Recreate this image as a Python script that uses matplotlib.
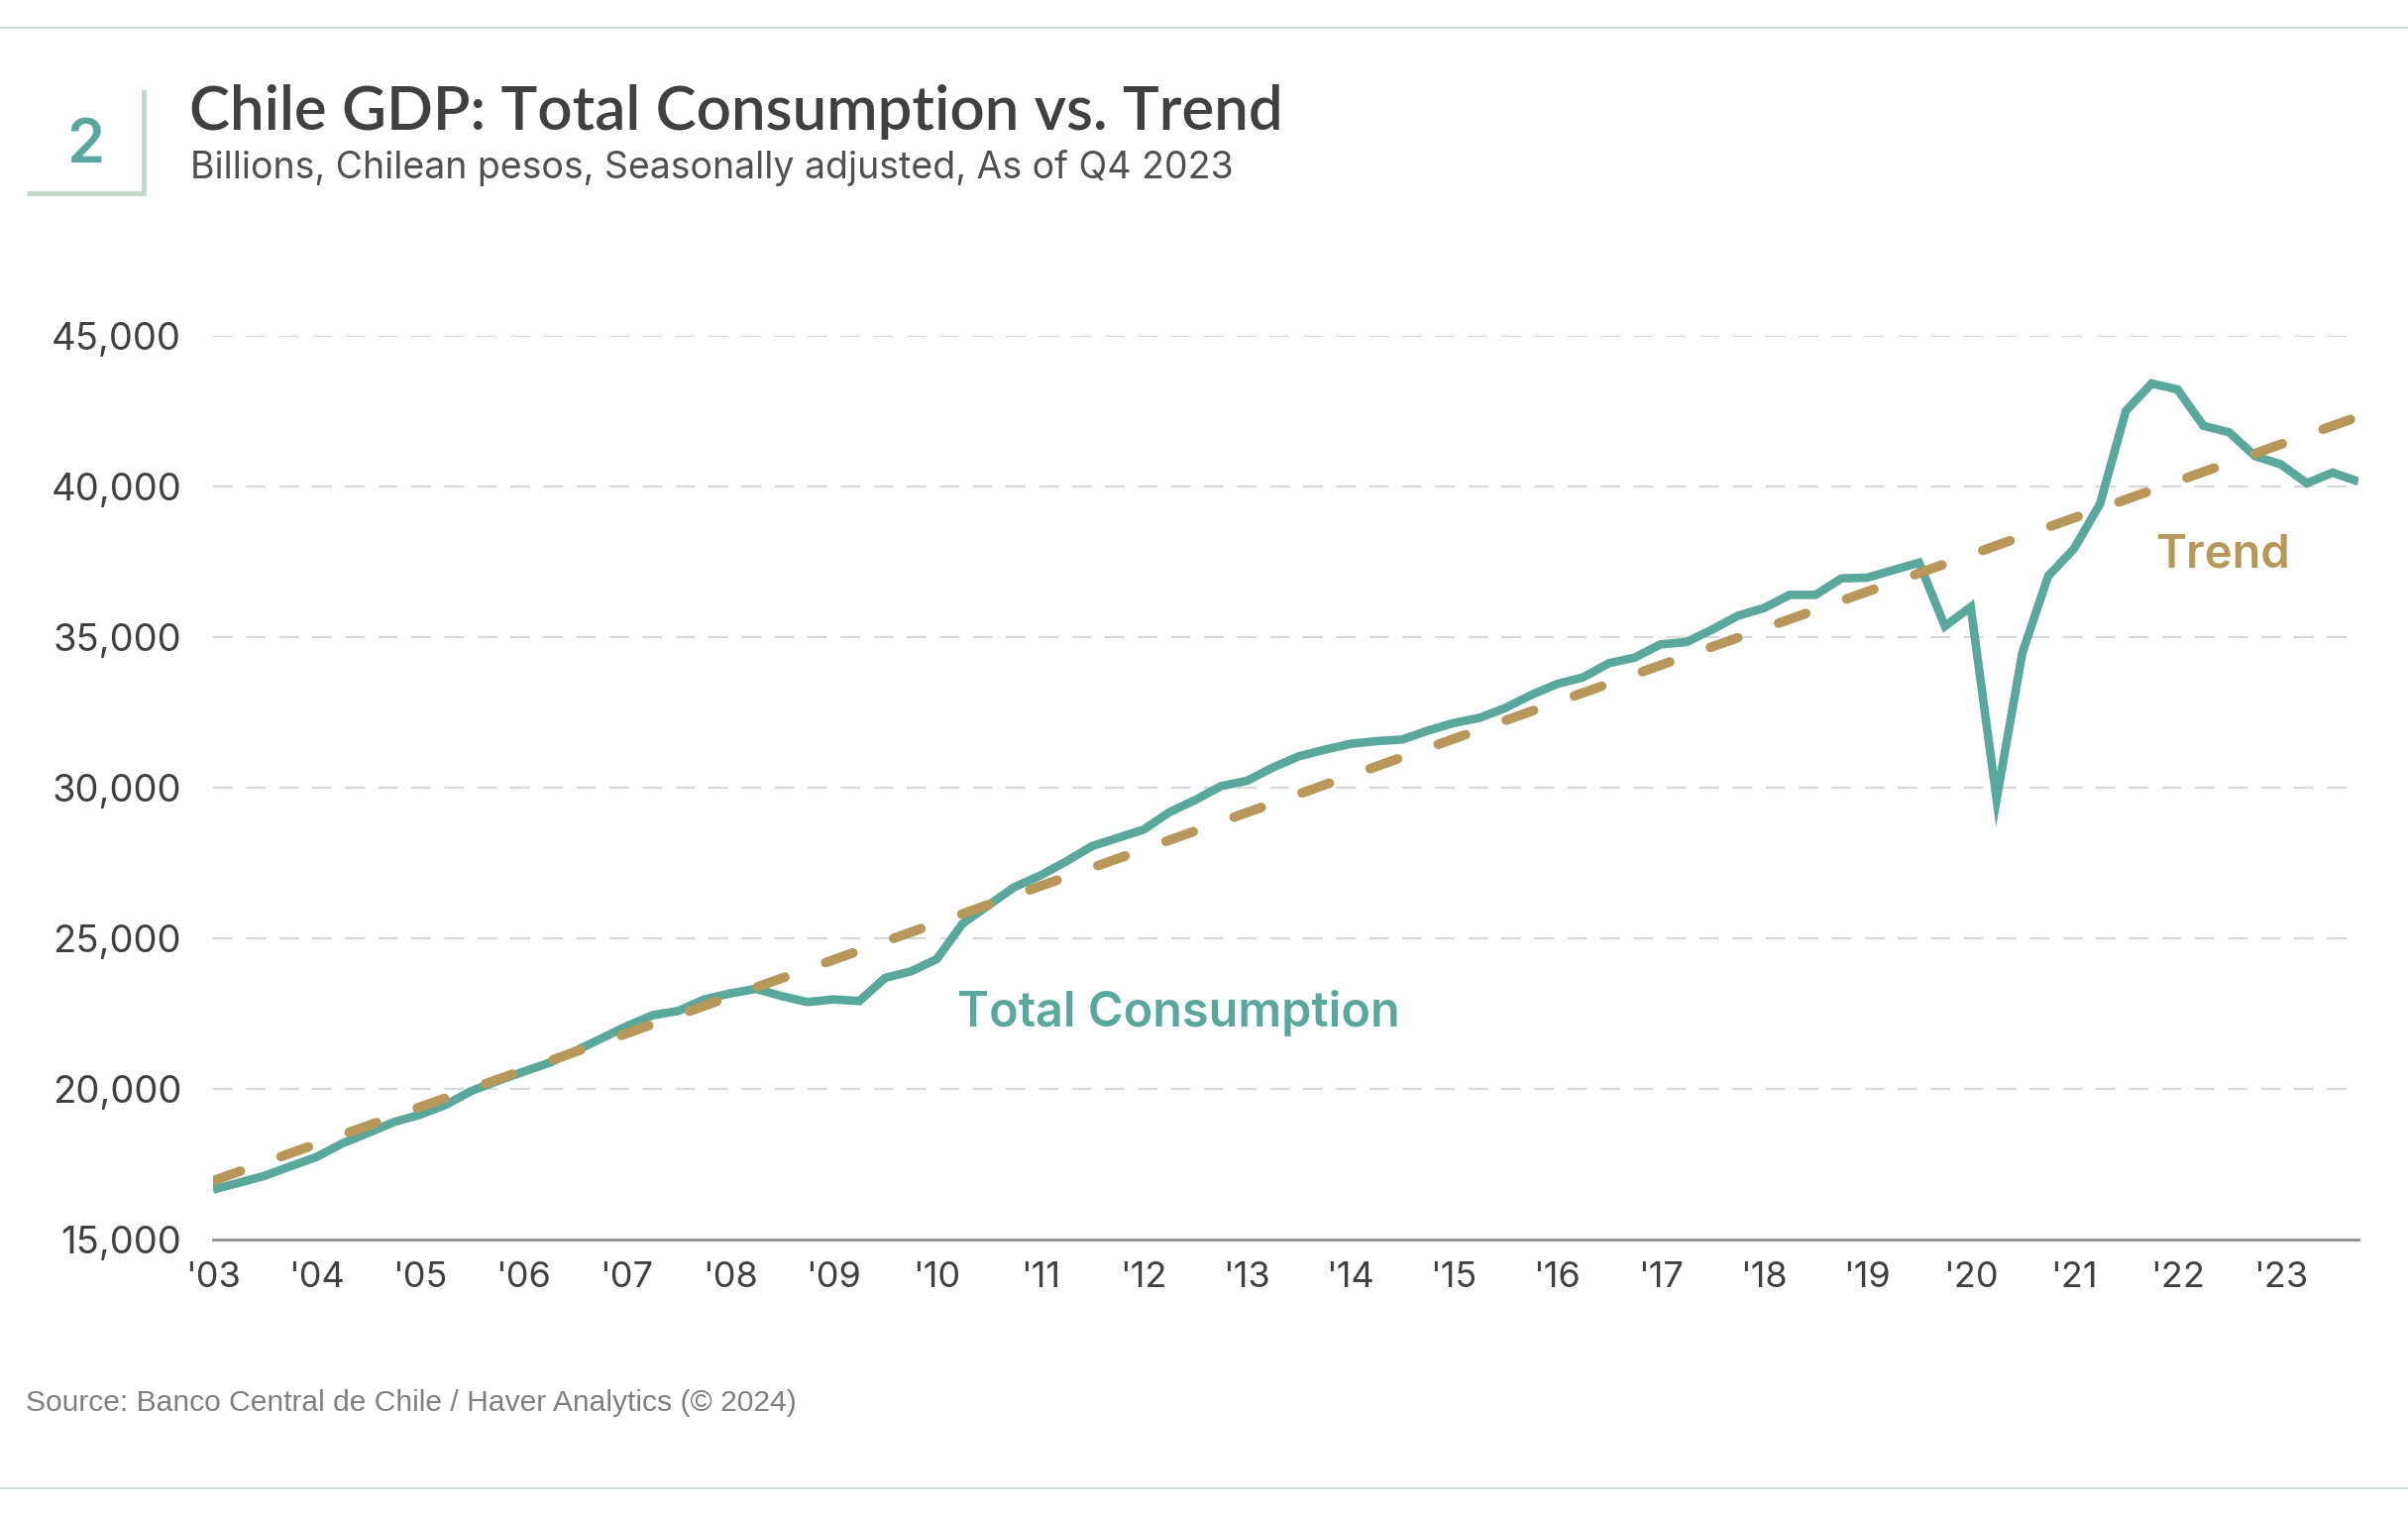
import matplotlib
matplotlib.use("Agg")
import matplotlib.pyplot as plt
from matplotlib.lines import Line2D
import numpy as np

# ---------------- data ----------------
start_year = 2003
consumption = [
    16656, 16886, 17116, 17434, 17741, 18190, 18540, 18900,   # 2003-2004
    19145, 19470, 19935, 20263, 20570, 20866, 21250, 21667,   # 2005-2006
    22080, 22446, 22590, 22972, 23170, 23323, 23082, 22885,   # 2007-2008
    22972, 22918, 23685, 23904, 24310, 25493, 26096, 26700,   # 2009-2010
    27083, 27550, 28060, 28334, 28608, 29189, 29594, 30055,   # 2011-2012
    30230, 30669, 31041, 31260, 31458, 31545, 31600, 31896,   # 2013-2014
    32148, 32320, 32650, 33082, 33444, 33663, 34134, 34320,   # 2015-2016
    34759, 34836, 35252, 35712, 35964, 36403, 36403, 36951,   # 2017-2018
    36973, 37225, 37470, 35364, 36000, 29620, 34487, 37030,   # 2019-2020
    37940, 39419, 42510, 43420, 43222, 42017, 41797, 41008,   # 2021-2022
    40734, 40110, 40460, 40164,                               # 2023
]
trend_x = [2003.0, 2023.75]
trend_vals = [16950, 42320]

year_ticks = list(range(2003, 2024))
year_labels = ["'" + str(y)[2:] for y in year_ticks]
y_ticks = [15000, 20000, 25000, 30000, 35000, 40000, 45000]
y_labels = ["{:,}".format(v) for v in y_ticks]

title = "Chile GDP: Total Consumption vs. Trend"
subtitle = "Billions, Chilean pesos, Seasonally adjusted, As of Q4 2023"
source = "Source: Banco Central de Chile / Haver Analytics (\u00a9 2024)"

teal = "#5aa89c"
gold = "#b8985a"
dark = "#404040"

x = [start_year + i / 4 for i in range(len(consumption))]

# ---------------- figure ----------------
W, H = 2430, 1528
fig = plt.figure(figsize=(W / 100, H / 100), dpi=100)
fig.patch.set_facecolor("white")

FONT = ["Inter", "Lato", "DejaVu Sans"]
TFONT = ["Lato", "DejaVu Sans"]

def fx(px):
    return px / W

def fy(py):
    return 1 - py / H

ax = fig.add_axes([fx(215), fy(1251), fx(2380) - fx(215), fy(339) - fy(1251)])
ax.set_xlim(2003.0, 2023.75)
ax.set_ylim(15000, 45000)

for v in y_ticks[1:]:
    ax.axhline(v, color="#d9d9d9", lw=1.6, dashes=(9, 6), zorder=1)

ax.plot(x, consumption, color=teal, lw=6.2, solid_joinstyle="miter",
        solid_capstyle="butt", zorder=3)
tl, = ax.plot(trend_x, trend_vals, color=gold, lw=7.0, zorder=4,
              dash_capstyle="round")
tl.set_dashes((3.0, 4.5))

for s in ["left", "right", "top"]:
    ax.spines[s].set_visible(False)
ax.spines["bottom"].set_color("#8c8c8c")
ax.spines["bottom"].set_linewidth(2.0)

ax.set_xticks(year_ticks)
ax.set_xticklabels(year_labels, family=FONT, fontsize=26, color=dark)
ax.set_yticks(y_ticks)
ax.set_yticklabels(y_labels, family=FONT, fontsize=27.5, color=dark)
ax.tick_params(axis="both", length=0)
ax.tick_params(axis="x", pad=16)
ax.tick_params(axis="y", pad=23)

ax.text(2010.2, 22500, "Total Consumption", color=teal, fontsize=35,
        fontweight="semibold", family=FONT, va="center", ha="left", zorder=5)
ax.text(2022.44, 37700, "Trend", color=gold, fontsize=34,
        fontweight="semibold", family=FONT, va="center", ha="center", zorder=5)

# ---------------- header / frame ----------------
frame_col = "#c7d6cd"
fig.add_artist(Line2D([0, 1], [fy(28), fy(28)], color="#d3ddd8", lw=1.5))
fig.add_artist(Line2D([0, 1], [fy(1502), fy(1502)], color="#d3ddd8", lw=1.5))
fig.add_artist(Line2D([fx(145), fx(145)], [fy(90), fy(196)], color=frame_col,
                      lw=3.5, solid_capstyle="butt"))
fig.add_artist(Line2D([fx(27), fx(147)], [fy(195), fy(195)], color=frame_col,
                      lw=3.5, solid_capstyle="butt"))

fig.text(fx(86), fy(148), "2", color=teal, fontsize=44, fontweight="semibold",
         family=FONT, ha="center", va="center")
fig.text(fx(191), fy(131), title, color=dark, fontsize=44.5, fontweight="semibold",
         family=TFONT, ha="left", va="baseline")
fig.text(fx(192), fy(180), subtitle, color="#505050", fontsize=27,
         family=FONT, ha="left", va="baseline")
fig.text(fx(26), fy(1424), source, color="#7f7f7f", fontsize=21.6,
         family=["Liberation Sans Narrow", "Liberation Sans", "DejaVu Sans"],
         ha="left", va="baseline")

fig.savefig("out.png", dpi=100, facecolor="white")
